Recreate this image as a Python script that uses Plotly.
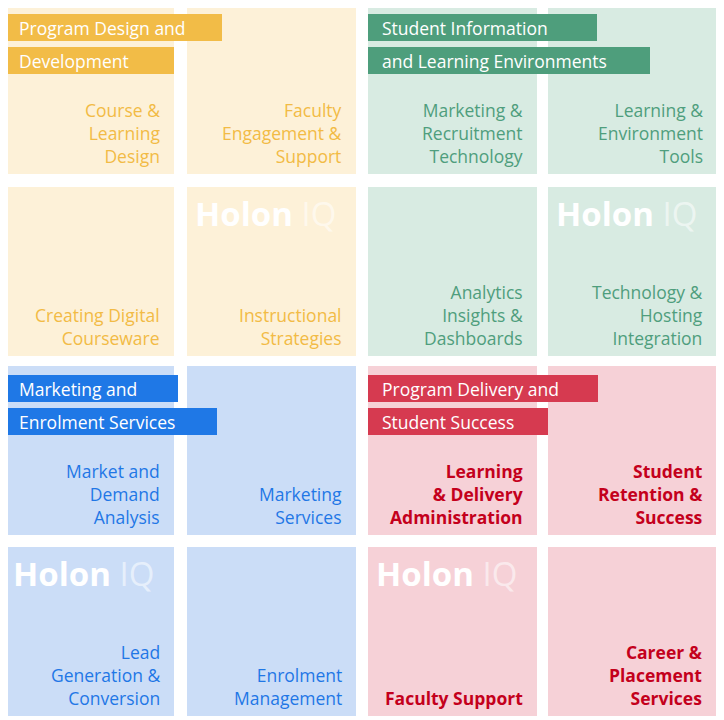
import plotly.graph_objects as go

col_x = [5, 187, 368, 548]
row_y = [5, 187, 366, 547]
tile_w, tile_h = 169, 169

quad_fill = {"y": "#fdf1d8", "g": "#d8ebe2", "b": "#cbddf7", "r": "#f6d1d7"}
quad_text = {"y": "#f2bb45", "g": "#4f9e7d", "b": "#1f77e6", "r": "#c4001c"}
quad_head = {"y": "#f2bc47", "g": "#4e9e7c", "b": "#1f78e6", "r": "#d63a50"}

tile_quad = [["y", "y", "g", "g"], ["y", "y", "g", "g"],
             ["b", "b", "r", "r"], ["b", "b", "r", "r"]]
tile_text = [
    ["Course &<br>Learning<br>Design", "Faculty<br>Engagement &<br>Support",
     "Marketing &<br>Recruitment<br>Technology", "Learning &<br>Environment<br>Tools"],
    ["Creating Digital<br>Courseware", "Instructional<br>Strategies",
     "Analytics<br>Insights &<br>Dashboards", "Technology &<br>Hosting<br>Integration"],
    ["Market and<br>Demand<br>Analysis", "Marketing<br>Services",
     "Learning<br>& Delivery<br>Administration", "Student<br>Retention &<br>Success"],
    ["Lead<br>Generation &<br>Conversion", "Enrolment<br>Management",
     "Faculty Support", "Career &<br>Placement<br>Services"],
]
watermark_tiles = [(1, 1), (1, 3), (3, 0), (3, 2)]

headers = [
    ("y", "Program Design and", 5, 222, 14), ("y", "Development", 5, 174, 47),
    ("g", "Student Information", 368, 597, 14), ("g", "and Learning Environments", 368, 650, 47),
    ("b", "Marketing and", 5, 178, 375), ("b", "Enrolment Services", 5, 217, 408),
    ("r", "Program Delivery and", 368, 598, 375), ("r", "Student Success", 368, 548, 408),
]

FONT = "Open Sans"
OFF = 8  # page body margin offset
shapes, annots = [], []
for r in range(4):
    for c in range(4):
        q = tile_quad[r][c]
        x0, y0 = col_x[c], row_y[r]
        shapes.append(dict(type="rect", xref="x", yref="y", x0=x0, x1=x0 + tile_w,
                           y0=y0, y1=y0 + tile_h, fillcolor=quad_fill[q], line_width=0, layer="below"))
        annots.append(dict(x=x0 + tile_w - 12, y=y0 + tile_h - 4, xref="x", yref="y",
                           text=tile_text[r][c], showarrow=False, xanchor="right", yanchor="bottom",
                           align="right", font=dict(family=FONT, size=17.5, color=quad_text[q],
                                                    weight="bold" if q == "r" else "normal")))
for r, c in watermark_tiles:
    annots.append(dict(x=col_x[c] + 6, y=row_y[r] + 26, xref="x", yref="y",
                       text="<b>Holon</b> <span style='color:rgba(255,255,255,0.55)'>IQ</span>",
                       showarrow=False, xanchor="left", yanchor="middle",
                       font=dict(family=FONT, size=33, color="white")))
for q, txt, x0, x1, y0 in headers:
    shapes.append(dict(type="rect", xref="x", yref="y", x0=x0, x1=x1, y0=y0, y1=y0 + 27,
                       fillcolor=quad_head[q], line_width=0))
    annots.append(dict(x=x0 + 12, y=y0 + 13.5, xref="x", yref="y", text=txt, showarrow=False,
                       xanchor="left", yanchor="middle",
                       font=dict(family=FONT, size=17.5, color="white")))

fig = go.Figure()
fig.update_layout(width=724, height=720, margin=dict(l=0, r=0, t=0, b=0),
                  paper_bgcolor="white", plot_bgcolor="white",
                  xaxis=dict(range=[OFF, 724 + OFF], visible=False, fixedrange=True),
                  yaxis=dict(range=[720 + OFF, OFF], visible=False, fixedrange=True),
                  shapes=shapes, annotations=annots, showlegend=False)
fig.write_html("out.html")
